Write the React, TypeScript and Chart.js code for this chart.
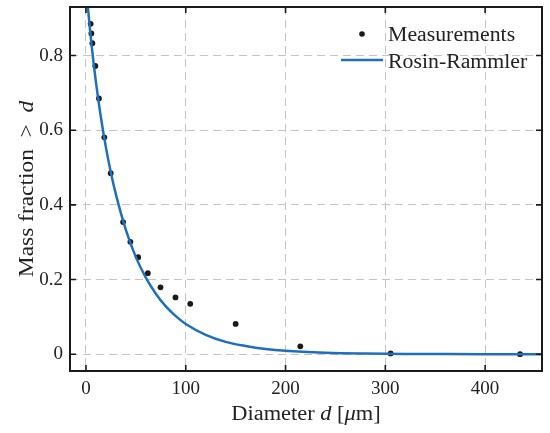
import React, { useEffect, useRef } from "react";
import { Chart, registerables } from "chart.js";

Chart.register(...registerables);

// Measurements (diameter in µm, mass fraction > d)
const measD = [4.7, 5.4, 6.4, 9.4, 13, 18.4, 24.8, 37.2, 44.5, 52.3, 62, 74.7, 89.7, 104.5, 150, 214.8, 305.3, 435];
const measF = [0.885, 0.859, 0.833, 0.772, 0.685, 0.581, 0.485, 0.354, 0.301, 0.26, 0.217, 0.179, 0.152, 0.135, 0.081, 0.021, 0.002, 0.0];

// Rosin-Rammler curve
const fitD = [0, 1, 2, 4, 6, 8, 10, 15, 20, 25, 30, 40, 50, 60, 70, 80, 90, 100, 120, 140, 160, 180, 200, 240, 280, 320, 360, 400, 460];
const fitF = [1, 0.961, 0.928, 0.871, 0.819, 0.772, 0.729, 0.634, 0.554, 0.486, 0.428, 0.333, 0.26, 0.205, 0.162, 0.128, 0.102, 0.081, 0.052, 0.033, 0.022, 0.014, 0.009, 0.004, 0.0018, 0.0008, 0.0004, 0.0002, 0.0001];

const xTicksStep = 100;
const yTicksStep = 0.2;
const legendLabels = ["Measurements", "Rosin-Rammler"];

const SERIF = "'Liberation Serif', 'DejaVu Serif', serif";
const BLUE = "#1f6fbd";
const DARK = "#1a1a1a";

type Seg = { t: string; it?: boolean };

function drawSegs(ctx: CanvasRenderingContext2D, segs: Seg[], size: number, cx: number, cy: number, sx: number) {
  const fontOf = (s: Seg) => `${s.it ? "italic " : ""}${size}px ${SERIF}`;
  let total = 0;
  for (const s of segs) {
    ctx.font = fontOf(s);
    total += ctx.measureText(s.t).width;
  }
  ctx.save();
  ctx.translate(cx, cy);
  ctx.scale(sx, 1);
  let x = -total / 2;
  ctx.textAlign = "left";
  ctx.textBaseline = "middle";
  for (const s of segs) {
    ctx.font = fontOf(s);
    ctx.fillText(s.t, x, 0);
    x += ctx.measureText(s.t).width;
  }
  ctx.restore();
}

function drawLeft(ctx: CanvasRenderingContext2D, text: string, size: number, x: number, y: number, sx: number) {
  ctx.save();
  ctx.translate(x, y);
  ctx.scale(sx, 1);
  ctx.font = `${size}px ${SERIF}`;
  ctx.textAlign = "left";
  ctx.textBaseline = "middle";
  ctx.fillText(text, 0, 0);
  ctx.restore();
}

const overlay = {
  id: "overlay",
  afterDraw(chart: any) {
    const { ctx, chartArea, scales } = chart;
    const { left, right, top, bottom } = chartArea;
    const xs = scales.x;
    const ys = scales.y;
    ctx.save();
    ctx.strokeStyle = DARK;
    ctx.lineWidth = 1.6;
    ctx.setLineDash([]);
    const tl = 6;
    ctx.beginPath();
    xs.ticks.forEach((t: any) => {
      const px = xs.getPixelForValue(t.value);
      ctx.moveTo(px, bottom);
      ctx.lineTo(px, bottom - tl);
      ctx.moveTo(px, top);
      ctx.lineTo(px, top + tl);
    });
    ys.ticks.forEach((t: any) => {
      const py = ys.getPixelForValue(t.value);
      ctx.moveTo(left, py);
      ctx.lineTo(left + tl, py);
      ctx.moveTo(right, py);
      ctx.lineTo(right - tl, py);
    });
    ctx.stroke();
    ctx.lineWidth = 2;
    ctx.strokeRect(left, top, right - left, bottom - top);

    // legend
    const lx = right - 154;
    ctx.fillStyle = DARK;
    ctx.beginPath();
    ctx.arc(lx - 26, top + 27, 2.8, 0, Math.PI * 2);
    ctx.fill();
    ctx.strokeStyle = BLUE;
    ctx.lineWidth = 2.5;
    ctx.beginPath();
    ctx.moveTo(lx - 47, top + 53);
    ctx.lineTo(lx - 5, top + 53);
    ctx.stroke();
    ctx.fillStyle = "#222";
    drawLeft(ctx, legendLabels[0], 20, lx, top + 29, 1.09);
    drawLeft(ctx, legendLabels[1], 20, lx, top + 56, 1.09);

    // axis titles
    drawSegs(ctx, [{ t: "Diameter " }, { t: "d", it: true }, { t: " [" }, { t: "\u03bc", it: true }, { t: "m]" }], 20, (left + right) / 2, 415, 1.12);
    ctx.save();
    ctx.translate(28, (top + bottom) / 2);
    ctx.rotate(-Math.PI / 2);
    drawSegs(ctx, [{ t: "Mass fraction\u2002>\u2002" }, { t: "d", it: true }], 20, 0, 0, 1.17);
    ctx.restore();
    ctx.restore();
  },
};

export default function App() {
  const ref = useRef<HTMLCanvasElement>(null);
  useEffect(() => {
    document.body.style.margin = "0";
    const c = new Chart(ref.current!, {
      type: "scatter",
      data: {
        datasets: [
          {
            label: legendLabels[0],
            data: measD.map((d, i) => ({ x: d, y: measF[i] })),
            backgroundColor: DARK,
            borderColor: DARK,
            pointRadius: 2.9,
            pointBorderWidth: 0,
            order: 2,
          },
          {
            label: legendLabels[1],
            data: fitD.map((d, i) => ({ x: d, y: fitF[i] })),
            showLine: true,
            borderColor: BLUE,
            borderWidth: 2.5,
            pointRadius: 0,
            cubicInterpolationMode: "monotone",
            order: 1,
          } as any,
        ],
      },
      options: {
        animation: false,
        responsive: true,
        maintainAspectRatio: false,
        layout: { padding: { top: 7, right: 8, left: 0, bottom: 0 } },
        plugins: { legend: { display: false }, tooltip: { enabled: false } },
        scales: {
          x: {
            type: "linear",
            min: -16,
            max: 457,
            afterFit: (s: any) => {
              s.height = 62;
              s.paddingLeft = 0;
              s.paddingRight = 0;
            },
            ticks: {
              stepSize: xTicksStep,
              includeBounds: false,
              padding: 7,
              color: "#222",
              font: { family: SERIF, size: 19 },
              maxRotation: 0,
            },
            grid: { color: "#c4c4c4", lineWidth: 1, drawTicks: false },
            border: { display: false, dash: [8, 5] },
          },
          y: {
            type: "linear",
            min: -0.045,
            max: 0.93,
            afterFit: (s: any) => {
              s.width = 70;
              s.paddingTop = 0;
              s.paddingBottom = 0;
            },
            ticks: {
              stepSize: yTicksStep,
              includeBounds: false,
              padding: 7,
              color: "#222",
              font: { family: SERIF, size: 19 },
              callback: (v: any) => (Math.abs(v) < 1e-9 ? "0" : Number(v).toFixed(1)),
            },
            grid: { color: "#c4c4c4", lineWidth: 1, drawTicks: false },
            border: { display: false, dash: [8, 5] },
          },
        },
      },
      plugins: [overlay],
    });
    return () => c.destroy();
  }, []);
  return (
    <div style={{ width: 550, height: 433, position: "relative", background: "#fff" }}>
      <canvas ref={ref} />
    </div>
  );
}
